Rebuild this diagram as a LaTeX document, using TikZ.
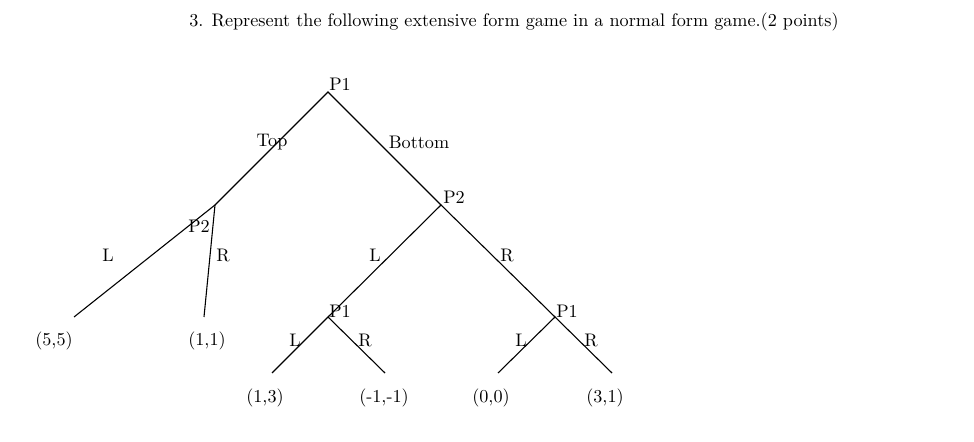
\documentclass[tikz,border=0pt]{standalone}
\begin{document}
\begin{tikzpicture}[x=0.55pt,y=-0.55pt,lbl/.style={inner sep=0pt},edge/.style={line width=0.6pt}]
\useasboundingbox (0,0) rectangle (974,442);
\node[lbl] (title) at (514,22) {3. Represent the following extensive form game in a normal form game.(2 points)};
\coordinate (r) at (328,92);
\coordinate (a) at (215,205);
\coordinate (b) at (441,205);
\coordinate (a1) at (74,317);
\coordinate (a2) at (204,317);
\coordinate (c) at (328,317);
\coordinate (d) at (555,317);
\coordinate (c1) at (272,373);
\coordinate (c2) at (385,373);
\coordinate (d1) at (498,373);
\coordinate (d2) at (612,373);
\draw[edge] (a1) -- (a) -- (r) -- (b) -- (c) -- (c1);
\draw[edge] (a) -- (a2);
\draw[edge] (c) -- (c2);
\draw[edge] (b) -- (d) -- (d1);
\draw[edge] (d) -- (d2);
\node[lbl] (pr) at (340,84) {P1};
\node[lbl] (pa) at (199,226) {P2};
\node[lbl] (pb) at (454,197) {P2};
\node[lbl] (pc) at (340,311) {P1};
\node[lbl] (pd) at (567,311) {P1};
\node[lbl] (top) at (272,142) {Top};
\node[lbl] (bot) at (419,142) {Bottom};
\node[lbl] (la) at (108,255) {L};
\node[lbl] (ra) at (223,255) {R};
\node[lbl] (lb) at (375,255) {L};
\node[lbl] (rb) at (507,255) {R};
\node[lbl] (lc) at (295,340) {L};
\node[lbl] (rc) at (365,340) {R};
\node[lbl] (ld) at (521,340) {L};
\node[lbl] (rd) at (591,340) {R};
\node[lbl] (o1) at (54,341) {(5,5)};
\node[lbl] (o2) at (207,341) {(1,1)};
\node[lbl] (o3) at (265,398) {(1,3)};
\node[lbl] (o4) at (384,398) {(-1,-1)};
\node[lbl] (o5) at (491,398) {(0,0)};
\node[lbl] (o6) at (605,398) {(3,1)};
\end{tikzpicture}
\end{document}
